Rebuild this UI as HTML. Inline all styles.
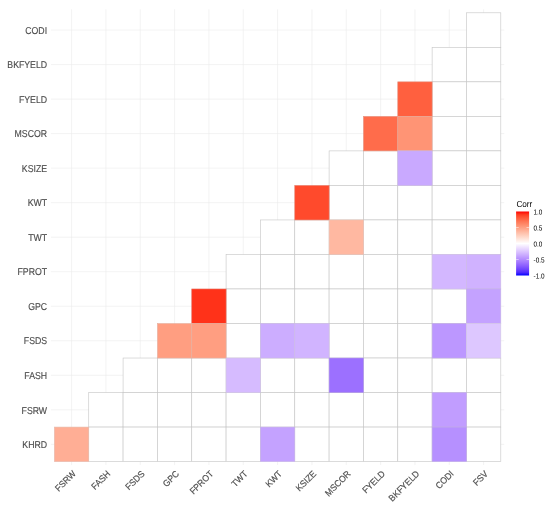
<!DOCTYPE html>
<html><head><meta charset="utf-8"><title>Corr</title>
<style>html,body{margin:0;padding:0;background:#fff}svg{display:block}text{font-family:"Liberation Sans",Arial,sans-serif}</style></head><body>
<svg width="550" height="508" viewBox="0 0 550 508">
<rect width="550" height="508" fill="#fff"/>
<g stroke="#EBEBEB" stroke-width="0.6" fill="none">
<line x1="71.57" y1="9.35" x2="71.57" y2="465.05"/>
<line x1="50.97" y1="30.06" x2="504.23" y2="30.06"/>
<line x1="105.91" y1="9.35" x2="105.91" y2="465.05"/>
<line x1="50.97" y1="64.58" x2="504.23" y2="64.58"/>
<line x1="140.25" y1="9.35" x2="140.25" y2="465.05"/>
<line x1="50.97" y1="99.11" x2="504.23" y2="99.11"/>
<line x1="174.58" y1="9.35" x2="174.58" y2="465.05"/>
<line x1="50.97" y1="133.63" x2="504.23" y2="133.63"/>
<line x1="208.92" y1="9.35" x2="208.92" y2="465.05"/>
<line x1="50.97" y1="168.15" x2="504.23" y2="168.15"/>
<line x1="243.26" y1="9.35" x2="243.26" y2="465.05"/>
<line x1="50.97" y1="202.68" x2="504.23" y2="202.68"/>
<line x1="277.60" y1="9.35" x2="277.60" y2="465.05"/>
<line x1="50.97" y1="237.20" x2="504.23" y2="237.20"/>
<line x1="311.94" y1="9.35" x2="311.94" y2="465.05"/>
<line x1="50.97" y1="271.72" x2="504.23" y2="271.72"/>
<line x1="346.28" y1="9.35" x2="346.28" y2="465.05"/>
<line x1="50.97" y1="306.25" x2="504.23" y2="306.25"/>
<line x1="380.62" y1="9.35" x2="380.62" y2="465.05"/>
<line x1="50.97" y1="340.77" x2="504.23" y2="340.77"/>
<line x1="414.95" y1="9.35" x2="414.95" y2="465.05"/>
<line x1="50.97" y1="375.29" x2="504.23" y2="375.29"/>
<line x1="449.29" y1="9.35" x2="449.29" y2="465.05"/>
<line x1="50.97" y1="409.82" x2="504.23" y2="409.82"/>
<line x1="483.63" y1="9.35" x2="483.63" y2="465.05"/>
<line x1="50.97" y1="444.34" x2="504.23" y2="444.34"/>
</g>
<g stroke="#C6C6C6" stroke-width="0.62">
<rect x="466.46" y="12.80" width="34.34" height="34.52" fill="#FFFFFF"/>
<rect x="432.12" y="47.32" width="34.34" height="34.52" fill="#FFFFFF"/>
<rect x="466.46" y="47.32" width="34.34" height="34.52" fill="#FFFFFF"/>
<rect x="432.12" y="81.85" width="34.34" height="34.52" fill="#FFFFFF"/>
<rect x="466.46" y="81.85" width="34.34" height="34.52" fill="#FFFFFF"/>
<rect x="432.12" y="116.37" width="34.34" height="34.52" fill="#FFFFFF"/>
<rect x="466.46" y="116.37" width="34.34" height="34.52" fill="#FFFFFF"/>
<rect x="329.11" y="150.89" width="34.34" height="34.52" fill="#FFFFFF"/>
<rect x="363.45" y="150.89" width="34.34" height="34.52" fill="#FFFFFF"/>
<rect x="432.12" y="150.89" width="34.34" height="34.52" fill="#FFFFFF"/>
<rect x="466.46" y="150.89" width="34.34" height="34.52" fill="#FFFFFF"/>
<rect x="329.11" y="185.42" width="34.34" height="34.52" fill="#FFFFFF"/>
<rect x="363.45" y="185.42" width="34.34" height="34.52" fill="#FFFFFF"/>
<rect x="397.78" y="185.42" width="34.34" height="34.52" fill="#FFFFFF"/>
<rect x="432.12" y="185.42" width="34.34" height="34.52" fill="#FFFFFF"/>
<rect x="466.46" y="185.42" width="34.34" height="34.52" fill="#FFFFFF"/>
<rect x="260.43" y="219.94" width="34.34" height="34.52" fill="#FFFFFF"/>
<rect x="294.77" y="219.94" width="34.34" height="34.52" fill="#FFFFFF"/>
<rect x="363.45" y="219.94" width="34.34" height="34.52" fill="#FFFFFF"/>
<rect x="397.78" y="219.94" width="34.34" height="34.52" fill="#FFFFFF"/>
<rect x="432.12" y="219.94" width="34.34" height="34.52" fill="#FFFFFF"/>
<rect x="466.46" y="219.94" width="34.34" height="34.52" fill="#FFFFFF"/>
<rect x="226.09" y="254.46" width="34.34" height="34.52" fill="#FFFFFF"/>
<rect x="260.43" y="254.46" width="34.34" height="34.52" fill="#FFFFFF"/>
<rect x="294.77" y="254.46" width="34.34" height="34.52" fill="#FFFFFF"/>
<rect x="329.11" y="254.46" width="34.34" height="34.52" fill="#FFFFFF"/>
<rect x="363.45" y="254.46" width="34.34" height="34.52" fill="#FFFFFF"/>
<rect x="397.78" y="254.46" width="34.34" height="34.52" fill="#FFFFFF"/>
<rect x="226.09" y="288.98" width="34.34" height="34.52" fill="#FFFFFF"/>
<rect x="260.43" y="288.98" width="34.34" height="34.52" fill="#FFFFFF"/>
<rect x="294.77" y="288.98" width="34.34" height="34.52" fill="#FFFFFF"/>
<rect x="329.11" y="288.98" width="34.34" height="34.52" fill="#FFFFFF"/>
<rect x="363.45" y="288.98" width="34.34" height="34.52" fill="#FFFFFF"/>
<rect x="397.78" y="288.98" width="34.34" height="34.52" fill="#FFFFFF"/>
<rect x="432.12" y="288.98" width="34.34" height="34.52" fill="#FFFFFF"/>
<rect x="226.09" y="323.51" width="34.34" height="34.52" fill="#FFFFFF"/>
<rect x="329.11" y="323.51" width="34.34" height="34.52" fill="#FFFFFF"/>
<rect x="363.45" y="323.51" width="34.34" height="34.52" fill="#FFFFFF"/>
<rect x="397.78" y="323.51" width="34.34" height="34.52" fill="#FFFFFF"/>
<rect x="123.08" y="358.03" width="34.34" height="34.52" fill="#FFFFFF"/>
<rect x="157.42" y="358.03" width="34.34" height="34.52" fill="#FFFFFF"/>
<rect x="191.75" y="358.03" width="34.34" height="34.52" fill="#FFFFFF"/>
<rect x="260.43" y="358.03" width="34.34" height="34.52" fill="#FFFFFF"/>
<rect x="294.77" y="358.03" width="34.34" height="34.52" fill="#FFFFFF"/>
<rect x="363.45" y="358.03" width="34.34" height="34.52" fill="#FFFFFF"/>
<rect x="397.78" y="358.03" width="34.34" height="34.52" fill="#FFFFFF"/>
<rect x="432.12" y="358.03" width="34.34" height="34.52" fill="#FFFFFF"/>
<rect x="466.46" y="358.03" width="34.34" height="34.52" fill="#FFFFFF"/>
<rect x="88.74" y="392.55" width="34.34" height="34.52" fill="#FFFFFF"/>
<rect x="123.08" y="392.55" width="34.34" height="34.52" fill="#FFFFFF"/>
<rect x="157.42" y="392.55" width="34.34" height="34.52" fill="#FFFFFF"/>
<rect x="191.75" y="392.55" width="34.34" height="34.52" fill="#FFFFFF"/>
<rect x="226.09" y="392.55" width="34.34" height="34.52" fill="#FFFFFF"/>
<rect x="260.43" y="392.55" width="34.34" height="34.52" fill="#FFFFFF"/>
<rect x="294.77" y="392.55" width="34.34" height="34.52" fill="#FFFFFF"/>
<rect x="329.11" y="392.55" width="34.34" height="34.52" fill="#FFFFFF"/>
<rect x="363.45" y="392.55" width="34.34" height="34.52" fill="#FFFFFF"/>
<rect x="397.78" y="392.55" width="34.34" height="34.52" fill="#FFFFFF"/>
<rect x="466.46" y="392.55" width="34.34" height="34.52" fill="#FFFFFF"/>
<rect x="88.74" y="427.08" width="34.34" height="34.52" fill="#FFFFFF"/>
<rect x="123.08" y="427.08" width="34.34" height="34.52" fill="#FFFFFF"/>
<rect x="157.42" y="427.08" width="34.34" height="34.52" fill="#FFFFFF"/>
<rect x="191.75" y="427.08" width="34.34" height="34.52" fill="#FFFFFF"/>
<rect x="226.09" y="427.08" width="34.34" height="34.52" fill="#FFFFFF"/>
<rect x="294.77" y="427.08" width="34.34" height="34.52" fill="#FFFFFF"/>
<rect x="329.11" y="427.08" width="34.34" height="34.52" fill="#FFFFFF"/>
<rect x="363.45" y="427.08" width="34.34" height="34.52" fill="#FFFFFF"/>
<rect x="397.78" y="427.08" width="34.34" height="34.52" fill="#FFFFFF"/>
<rect x="466.46" y="427.08" width="34.34" height="34.52" fill="#FFFFFF"/>
<rect x="397.78" y="81.85" width="34.34" height="34.52" fill="#FF603F" stroke="#E58E7C"/>
<rect x="363.45" y="116.37" width="34.34" height="34.52" fill="#FF6C4B" stroke="#E59482"/>
<rect x="397.78" y="116.37" width="34.34" height="34.52" fill="#FF9475" stroke="#E5AA99"/>
<rect x="397.78" y="150.89" width="34.34" height="34.52" fill="#C9A9FF" stroke="#C8B6E5"/>
<rect x="294.77" y="185.42" width="34.34" height="34.52" fill="#FF4A2C" stroke="#E58271"/>
<rect x="329.11" y="219.94" width="34.34" height="34.52" fill="#FFB8A1" stroke="#E5BEB2"/>
<rect x="432.12" y="254.46" width="34.34" height="34.52" fill="#D3B7FF" stroke="#CDBEE5"/>
<rect x="466.46" y="254.46" width="34.34" height="34.52" fill="#D0B2FF" stroke="#CCBBE5"/>
<rect x="191.75" y="288.98" width="34.34" height="34.52" fill="#FF3219" stroke="#E57567"/>
<rect x="466.46" y="288.98" width="34.34" height="34.52" fill="#C4A2FF" stroke="#C5B2E5"/>
<rect x="157.42" y="323.51" width="34.34" height="34.52" fill="#FF9E81" stroke="#E5B0A0"/>
<rect x="191.75" y="323.51" width="34.34" height="34.52" fill="#FF9E81" stroke="#E5B0A0"/>
<rect x="260.43" y="323.51" width="34.34" height="34.52" fill="#CCADFF" stroke="#C9B8E5"/>
<rect x="294.77" y="323.51" width="34.34" height="34.52" fill="#D1B4FF" stroke="#CCBCE5"/>
<rect x="432.12" y="323.51" width="34.34" height="34.52" fill="#BC97FF" stroke="#C0ACE5"/>
<rect x="466.46" y="323.51" width="34.34" height="34.52" fill="#DDC7FF" stroke="#D3C7E5"/>
<rect x="226.09" y="358.03" width="34.34" height="34.52" fill="#D6BBFF" stroke="#CFC0E5"/>
<rect x="329.11" y="358.03" width="34.34" height="34.52" fill="#9C70FF" stroke="#AF97E5"/>
<rect x="432.12" y="392.55" width="34.34" height="34.52" fill="#C19DFF" stroke="#C3AFE5"/>
<rect x="54.40" y="427.08" width="34.34" height="34.52" fill="#FFAE95" stroke="#E5B9AB"/>
<rect x="260.43" y="427.08" width="34.34" height="34.52" fill="#C4A2FF" stroke="#C5B2E5"/>
<rect x="432.12" y="427.08" width="34.34" height="34.52" fill="#B690FF" stroke="#BDA8E5"/>
</g>
<g font-size="10.0" fill="#4D4D4D" stroke="#4D4D4D" stroke-width="0.15" text-anchor="end">
<text transform="translate(47.1,33.76) rotate(0.03) scale(0.875,1)">CODI</text>
<text transform="translate(47.1,68.28) rotate(0.03) scale(0.875,1)">BKFYELD</text>
<text transform="translate(47.1,102.81) rotate(0.03) scale(0.875,1)">FYELD</text>
<text transform="translate(47.1,137.33) rotate(0.03) scale(0.875,1)">MSCOR</text>
<text transform="translate(47.1,171.85) rotate(0.03) scale(0.875,1)">KSIZE</text>
<text transform="translate(47.1,206.38) rotate(0.03) scale(0.875,1)">KWT</text>
<text transform="translate(47.1,240.90) rotate(0.03) scale(0.875,1)">TWT</text>
<text transform="translate(47.1,275.42) rotate(0.03) scale(0.875,1)">FPROT</text>
<text transform="translate(47.1,309.95) rotate(0.03) scale(0.875,1)">GPC</text>
<text transform="translate(47.1,344.47) rotate(0.03) scale(0.875,1)">FSDS</text>
<text transform="translate(47.1,378.99) rotate(0.03) scale(0.875,1)">FASH</text>
<text transform="translate(47.1,413.52) rotate(0.03) scale(0.875,1)">FSRW</text>
<text transform="translate(47.1,448.04) rotate(0.03) scale(0.875,1)">KHRD</text>
</g>
<g font-size="9.1" fill="#4D4D4D" stroke="#4D4D4D" stroke-width="0.18" text-anchor="end">
<text transform="translate(71.87,469.70) rotate(-45) scale(0.94,1)" x="0" y="6.6">FSRW</text>
<text transform="translate(106.21,469.70) rotate(-45) scale(0.94,1)" x="0" y="6.6">FASH</text>
<text transform="translate(140.55,469.70) rotate(-45) scale(0.94,1)" x="0" y="6.6">FSDS</text>
<text transform="translate(174.88,469.70) rotate(-45) scale(0.94,1)" x="0" y="6.6">GPC</text>
<text transform="translate(209.22,469.70) rotate(-45) scale(0.94,1)" x="0" y="6.6">FPROT</text>
<text transform="translate(243.56,469.70) rotate(-45) scale(0.94,1)" x="0" y="6.6">TWT</text>
<text transform="translate(277.90,469.70) rotate(-45) scale(0.94,1)" x="0" y="6.6">KWT</text>
<text transform="translate(312.24,469.70) rotate(-45) scale(0.94,1)" x="0" y="6.6">KSIZE</text>
<text transform="translate(346.58,469.70) rotate(-45) scale(0.94,1)" x="0" y="6.6">MSCOR</text>
<text transform="translate(380.92,469.70) rotate(-45) scale(0.94,1)" x="0" y="6.6">FYELD</text>
<text transform="translate(415.25,469.70) rotate(-45) scale(0.94,1)" x="0" y="6.6">BKFYELD</text>
<text transform="translate(449.59,469.70) rotate(-45) scale(0.94,1)" x="0" y="6.6">CODI</text>
<text transform="translate(483.93,469.70) rotate(-45) scale(0.94,1)" x="0" y="6.6">FSV</text>
</g>
<defs><linearGradient id="lg" x1="0" y1="0" x2="0" y2="1">
<stop offset="0.000" stop-color="#FF0000"/>
<stop offset="0.050" stop-color="#FF3E22"/>
<stop offset="0.100" stop-color="#FF5B3A"/>
<stop offset="0.150" stop-color="#FF7352"/>
<stop offset="0.200" stop-color="#FF8969"/>
<stop offset="0.250" stop-color="#FF9E81"/>
<stop offset="0.300" stop-color="#FFB299"/>
<stop offset="0.350" stop-color="#FFC6B2"/>
<stop offset="0.400" stop-color="#FFD9CB"/>
<stop offset="0.450" stop-color="#FFECE5"/>
<stop offset="0.500" stop-color="#FFFFFF"/>
<stop offset="0.550" stop-color="#F2E7FF"/>
<stop offset="0.600" stop-color="#E3D0FF"/>
<stop offset="0.650" stop-color="#D4B9FF"/>
<stop offset="0.700" stop-color="#C4A2FF"/>
<stop offset="0.750" stop-color="#B38BFF"/>
<stop offset="0.800" stop-color="#A074FF"/>
<stop offset="0.850" stop-color="#8A5DFF"/>
<stop offset="0.900" stop-color="#7145FF"/>
<stop offset="0.950" stop-color="#502BFF"/>
<stop offset="1.000" stop-color="#0000FF"/>
</linearGradient></defs>
<rect x="516.1" y="211.5" width="13.00" height="64.00" fill="url(#lg)"/>
<g stroke="#fff" stroke-width="0.5">
<line x1="516.1" y1="227.50" x2="518.70" y2="227.50"/><line x1="526.50" y1="227.50" x2="529.1" y2="227.50"/>
<line x1="516.1" y1="243.50" x2="518.70" y2="243.50"/><line x1="526.50" y1="243.50" x2="529.1" y2="243.50"/>
<line x1="516.1" y1="259.50" x2="518.70" y2="259.50"/><line x1="526.50" y1="259.50" x2="529.1" y2="259.50"/>
</g>
<text transform="translate(516.4,207) rotate(0.03) scale(0.93,1)" font-size="8.8" fill="#000">Corr</text>
<g font-size="7.3" fill="#000">
<text transform="translate(533.5,214.40) rotate(0.03) scale(0.88,1)">1.0</text>
<text transform="translate(533.5,230.40) rotate(0.03) scale(0.88,1)">0.5</text>
<text transform="translate(533.5,246.40) rotate(0.03) scale(0.88,1)">0.0</text>
<text transform="translate(533.5,262.40) rotate(0.03) scale(0.88,1)">-0.5</text>
<text transform="translate(533.5,278.40) rotate(0.03) scale(0.88,1)">-1.0</text>
</g>
</svg></body></html>
